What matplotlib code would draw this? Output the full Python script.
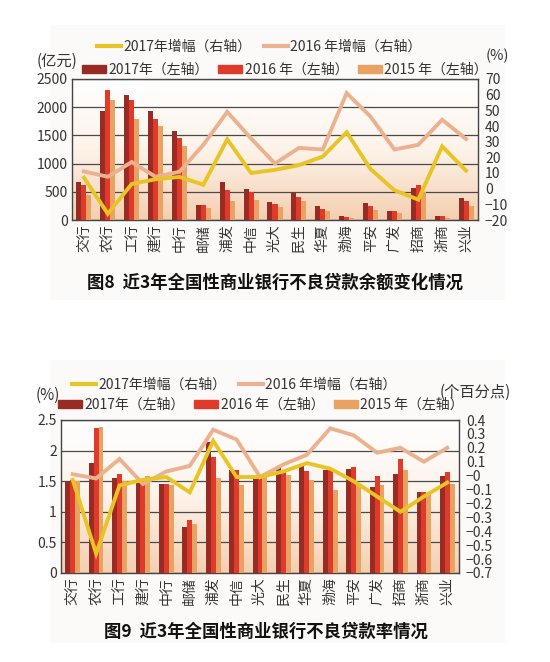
import numpy as np
import matplotlib
matplotlib.use("Agg")
import matplotlib.pyplot as plt
from matplotlib.colors import LinearSegmentedColormap
from matplotlib.lines import Line2D
from matplotlib.patches import Patch, Rectangle

plt.rcParams['font.family'] = ['Noto Sans CJK SC', 'DejaVu Sans']

# data
banks = ['交行', '农行', '工行', '建行', '中行', '邮储', '浦发', '中信', '光大',
         '民生', '华夏', '渤海', '平安', '广发', '招商', '浙商', '兴业']

# fig 8: NPL balance (100m yuan) and growth (%)
bal_2017 = [665, 1941, 2212, 1929, 1576, 265, 682, 541, 324, 476, 241, 76, 294, 153, 576, 76, 382]
bal_2016 = [618, 2300, 2124, 1782, 1459, 265, 530, 494, 282, 412, 200, 60, 253, 153, 618, 65, 341]
bal_2015 = [440, 2135, 1794, 1665, 1312, 205, 341, 353, 235, 330, 165, 30, 176, 118, 488, 30, 247]
bal_g2017 = [7, -16, 3, 6, 7.5, 2.5, 31.5, 10, 12, 15, 20.5, 36, 12.5, -1, -7, 27, 11.5]
bal_g2016 = [11, 7.6, 17, 7.6, 10.8, 28, 49, 32, 16, 26, 25, 61, 46, 25, 28, 44, 31.7]

# fig 9: NPL ratio (%) and change (pp)
rate_2017 = [1.49, 1.80, 1.55, 1.47, 1.45, 0.75, 2.14, 1.68, 1.59, 1.71, 1.76, 1.69, 1.70, 1.41, 1.61, 1.33, 1.59]
rate_2016 = [1.52, 2.37, 1.62, 1.52, 1.46, 0.87, 1.89, 1.69, 1.60, 1.68, 1.67, 1.69, 1.74, 1.59, 1.87, 1.33, 1.65]
rate_2015 = [1.51, 2.39, 1.50, 1.58, 1.43, 0.80, 1.56, 1.43, 1.61, 1.60, 1.52, 1.35, 1.45, 1.44, 1.68, 1.30, 1.46]
rate_g2017 = [-0.03, -0.56, -0.07, -0.03, -0.01, -0.12, 0.25, -0.01, -0.01, 0.03, 0.09, 0.05, -0.04, -0.15, -0.26, -0.15, -0.05]
rate_g2016 = [0.01, -0.02, 0.12, -0.06, 0.03, 0.07, 0.33, 0.26, -0.01, 0.08, 0.15, 0.34, 0.29, 0.165, 0.2, 0.10, 0.2]

C17 = '#982c24'
C16 = '#e03a2a'
C15 = '#e9a262'
YEL = '#e8c424'
PNK = '#ecb290'
TXT = '#333333'

W_PX, H_PX = 550, 662
fig = plt.figure(figsize=(W_PX / 100, H_PX / 100), dpi=100)
fig.patch.set_facecolor('white')

grad_cmap = LinearSegmentedColormap.from_list('bg', ['#ffffff', '#fdf3ea', '#f4cfb0'])


def px_rect(x0, y0, x1, y1):
    # pixel box (top-left origin) -> figure fraction [l, b, w, h]
    return [x0 / W_PX, 1 - y1 / H_PX, (x1 - x0) / W_PX, (y1 - y0) / H_PX]


def fmt(v):
    s = ('%g' % round(v, 2))
    return s.replace('-', '−')


def draw(box, v17, v16, v15, g17, g16, lmax, lstep, rlim, rstep):
    ax = fig.add_axes(px_rect(*box))
    ax.imshow(np.linspace(1, 0, 256).reshape(-1, 1), extent=[0, 1, 0, 1],
              transform=ax.transAxes, cmap=grad_cmap, aspect='auto',
              origin='lower', zorder=0)
    x = np.arange(len(banks))
    w = 0.21
    ax.bar(x - w, v17, w, color=C17, zorder=3)
    ax.bar(x, v16, w, color=C16, zorder=3)
    ax.bar(x + w, v15, w, color=C15, zorder=3)
    ax.set_xlim(-0.5, len(banks) - 0.5)
    ax.set_ylim(0, lmax)
    ax.set_yticks(np.arange(0, lmax + lstep / 2, lstep))
    ax.set_yticklabels([fmt(t) for t in np.arange(0, lmax + lstep / 2, lstep)])
    ax.set_xticks(x)
    ax.set_xticklabels(banks, rotation=90, fontsize=10.5, color=TXT)
    ax.set_axisbelow(True)
    ax.yaxis.grid(True, color='#4a4a4a', lw=0.9)
    ax.tick_params(length=0, labelsize=10, colors=TXT)
    ax.tick_params(axis='x', pad=3)
    ax.tick_params(axis='y', pad=3)
    for s in ax.spines.values():
        s.set_color('#444444')
        s.set_linewidth(1)

    ax2 = ax.twinx()
    ax2.plot(x, g16, color=PNK, lw=2.8, solid_joinstyle='miter', zorder=4)
    ax2.plot(x, g17, color=YEL, lw=2.8, solid_joinstyle='miter', zorder=5)
    rt = np.arange(rlim[0], rlim[1] + rstep / 2, rstep)
    ax2.set_ylim(*rlim)
    ax2.set_yticks(rt)
    ax2.set_yticklabels([fmt(t) for t in rt])
    ax2.tick_params(length=0, labelsize=10, colors=TXT, pad=5)
    for s in ax2.spines.values():
        s.set_visible(False)
    return ax, ax2


def legends(row1, row2):
    fig.legend(handles=[Line2D([], [], color=YEL, lw=3), Line2D([], [], color=PNK, lw=3)],
               labels=['2017年增幅（右轴）', '2016 年增幅（右轴）'],
               loc='center left', bbox_to_anchor=(row1[0] / W_PX, 1 - row1[1] / H_PX),
               ncol=2, frameon=False, fontsize=10, handlelength=1.7, handletextpad=0.2,
               columnspacing=0.9, borderpad=0, borderaxespad=0, labelcolor=TXT)
    fig.legend(handles=[Patch(color=C17), Patch(color=C16), Patch(color=C15)],
               labels=['2017年（左轴）', '2016 年（左轴）', '2015 年（左轴）'],
               loc='center left', bbox_to_anchor=(row2[0] / W_PX, 1 - row2[1] / H_PX),
               ncol=3, frameon=False, fontsize=10, handlelength=1.7, handleheight=0.5,
               handletextpad=0.2, columnspacing=0.7, borderpad=0, borderaxespad=0,
               labelcolor=TXT)


# faint panels behind both charts
for y0, y1 in [(25, 300), (360, 643)]:
    fig.patches.append(Rectangle((50 / W_PX, 1 - y1 / H_PX), 455 / W_PX, (y1 - y0) / H_PX,
                                 transform=fig.transFigure, facecolor='#fcfaf8',
                                 edgecolor='none', zorder=-5))

# figure 8
draw((72, 79, 478, 220), bal_2017, bal_2016, bal_2015, bal_g2017, bal_g2016,
     2500, 500, (-20, 70), 10)
legends((97, 47), (82, 70))
fig.text(37 / W_PX, 1 - 61 / H_PX, '(亿元)', fontsize=11, color=TXT, va='center')
fig.text(486 / W_PX, 1 - 56 / H_PX, '(%)', fontsize=10.5, color=TXT, va='center')
fig.text(275 / W_PX, 1 - 283 / H_PX, '图8  近3年全国性商业银行不良贷款余额变化情况',
         fontsize=12.5, fontweight='bold', color='#111111', ha='center', va='center')

# figure 9
draw((61, 420, 459, 573), rate_2017, rate_2016, rate_2015, rate_g2017, rate_g2016,
     2.5, 0.5, (-0.7, 0.4), 0.1)
legends((72, 385), (58, 405))
fig.text(36 / W_PX, 1 - 395 / H_PX, '(%)', fontsize=11, color=TXT, va='center')
fig.text(440 / W_PX, 1 - 392 / H_PX, '(个百分点)', fontsize=11, color=TXT, va='center')
fig.text(266 / W_PX, 1 - 632 / H_PX, '图9  近3年全国性商业银行不良贷款率情况',
         fontsize=12.5, fontweight='bold', color='#111111', ha='center', va='center')

fig.savefig('out.png', dpi=100)
